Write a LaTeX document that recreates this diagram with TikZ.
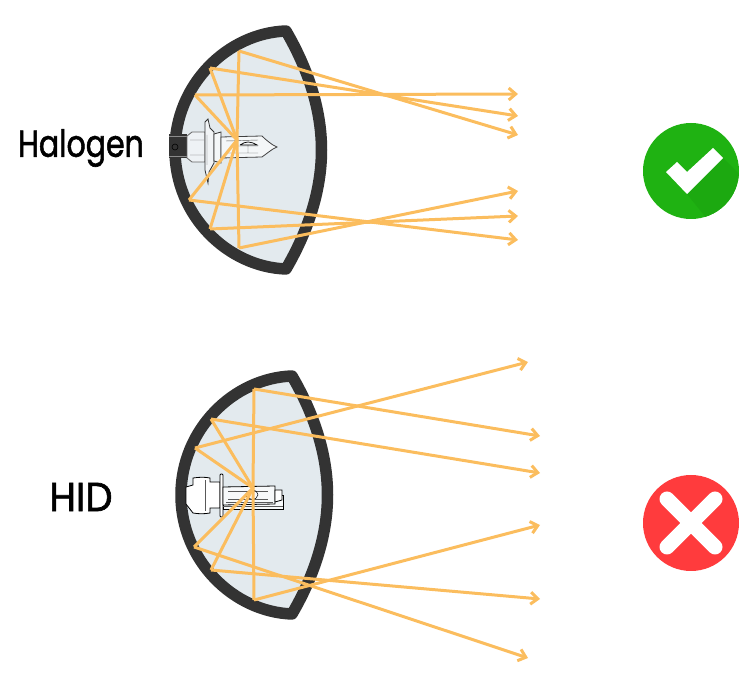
\documentclass[tikz,border=0pt]{standalone}
\usepackage{fontspec}
\setmainfont{Poppins}[RawFeature={embolden=1.6}]
\usetikzlibrary{arrows.meta}

\definecolor{shellgrey}{HTML}{333333}
\definecolor{glassblue}{HTML}{E3EAEE}
\definecolor{rayorange}{HTML}{FBBD5E}
\definecolor{okgreen}{HTML}{1FB212}
\definecolor{okshade}{HTML}{1CA910}
\definecolor{badred}{HTML}{FF3B3D}

\tikzset{
    reflector/.style={draw=shellgrey, fill=glassblue, line width=11.5pt, line join=round},
    ray/.style={draw=rayorange, line width=3pt, line join=miter},
    rayend/.style={ray, -{Straight Barb[length=7pt,width=12pt,line width=3pt]}},
    lamp/.style={draw=black, line width=0.8pt, fill=white},
    lampthin/.style={draw=black!65, line width=0.45pt},
    lamptitle/.style={font=\fontsize{30}{36}\selectfont, text=black, inner sep=0pt}
}

% reflector shell, #1 = shift
\newcommand{\reflectorshell}[1]{
    \draw[reflector, shift={#1}] (286,31) .. controls (228,33) and (175,84) .. (175,150)
        .. controls (175,216) and (228,267) .. (286,269)
        .. controls (307,233) and (321.5,192) .. (321.5,150)
        .. controls (321.5,108) and (307,67) .. (286,31) -- cycle;
}

\begin{document}
\begin{tikzpicture}[x=1pt, y=-1pt]
    \useasboundingbox (0,0) rectangle (756,692);

    % Draw the two shells
    \reflectorshell{(0,0)}
    \reflectorshell{(6,345)}

    % Halogen lamp
    \fill[black!80] (169,134) rectangle (187,158);
    \draw[black!45, line width=0.5pt] (169,136) -- (187,136) (169,156) -- (187,156);
    \draw[black, line width=0.6pt] (175,147) circle (3);
    \draw[lamp, fill=glassblue!60!white, draw=black!60] (187,136) -- (192,132) -- (205,132) -- (205,162) -- (192,162) -- (187,158) -- cycle;
    \draw[lamp, fill=glassblue!50!white, draw=black!80] (205,122) -- (208,119) -- (210,128) -- (214,132) -- (214,163) -- (209,172) -- (208,183) -- (205,170) -- cycle;
    \draw[lamp, fill=glassblue!40!white, draw=black!80] (214,134) -- (221,132) -- (221,163) -- (214,161) -- cycle;
    \draw[lamp, fill=glassblue!40!white, draw=black!75] (221,137) -- (262,136) .. controls (266,140) and (270,143) .. (273,145)
        -- (277,147) -- (273,149) .. controls (270,151) and (266,154) .. (262,157) -- (221,158) -- cycle;
    \draw[lampthin] (190,140) -- (204,140) (190,155) -- (204,155) (207,135) -- (207,165)
        (226,141) -- (258,140) (226,153) -- (258,153) (233,146) -- (258,146) (248,145) -- (248,153);
    \draw[black, line width=0.7pt] (240,145) .. controls (246,141) and (250,141) .. (257,145) -- (240,145);

    % HID lamp
    \fill[black!80] (180,490) rectangle (186,500);
    \draw[lamp] (186,487) -- (193,485) -- (193,478) .. controls (200,477) and (205,477) .. (210,478) -- (210,482) -- (220,482)
        -- (220,508) -- (210,508) -- (210,513) .. controls (205,514) and (198,514) .. (193,513) -- (186,504) -- cycle;
    \draw[lamp, rounded corners=1pt] (220,474) rectangle (223,517);
    \draw[lamp, fill=glassblue!30!white] (223,495) -- (283,495) -- (283,509) -- (223,509) -- cycle;
    \draw[lamp, fill=glassblue!30!white] (223,487) -- (275,486) -- (275,504) -- (223,505) -- cycle;
    \draw[lamp] (275,490) -- (282,490) -- (282,500) -- (275,502) -- cycle;
    \draw[lampthin] (205,480) -- (205,511) (228,491) -- (268,491) (228,499) -- (268,499)
        (226,502) -- (273,502) (223,506) -- (283,506);
    \draw[black, line width=0.5pt] (245,495) .. controls (250,488) and (256,488) .. (258,495) .. controls (256,501) and (250,501) .. (245,495);

    % Halogen rays
    \coordinate (hfocus) at (237,140);
    \coordinate (ha) at (239,51);
    \coordinate (hb) at (210,68);
    \coordinate (hc) at (195,95);
    \coordinate (hd) at (189,200);
    \coordinate (he) at (210,229);
    \coordinate (hf) at (239,248);
    \coordinate (hoa) at (518,135);
    \coordinate (hob) at (518,116);
    \coordinate (hoc) at (518,94);
    \coordinate (hod) at (518,240);
    \coordinate (hoe) at (518,216);
    \coordinate (hof) at (518,191);
    \foreach \p/\q in {ha/hoa, hb/hob, hc/hoc, hd/hod, he/hoe, hf/hof} {
        \draw[ray] (hfocus) -- (\p);
        \draw[rayend] (\p) -- (\q);
    }

    % HID rays
    \coordinate (xfocus) at (253,488);
    \coordinate (xa) at (254,389);
    \coordinate (xb) at (211,419);
    \coordinate (xc) at (195,448);
    \coordinate (xd) at (194,547);
    \coordinate (xe) at (211,570);
    \coordinate (xf) at (254,600);
    \coordinate (xoa) at (540,436);
    \coordinate (xob) at (540,473);
    \coordinate (xoc) at (528,362);
    \coordinate (xod) at (528,658);
    \coordinate (xoe) at (540,599);
    \coordinate (xof) at (540,525);
    \foreach \p/\q in {xa/xoa, xb/xob, xc/xoc, xd/xod, xe/xoe, xf/xof} {
        \draw[ray] (xfocus) -- (\p);
        \draw[rayend] (\p) -- (\q);
    }

    % Labels
    \node[lamptitle] (halogen) at (81,148) {\scalebox{1}[1.25]{Halogen}};
    \node[lamptitle] (hid) at (81,497) {\scalebox{1.28}[1.35]{HID}};

    % Check badge
    \fill[okgreen] (691,171) circle (48);
    \begin{scope}
        \clip (691,171) circle (48);
        \fill[okshade] (723,158) -- (760,195) -- (720,235) -- (687,194) -- cycle;
    \end{scope}
    \fill[white] (666,172) -- (677,162) -- (687,172) -- (713,148) -- (723,158) -- (687,194) -- cycle;

    % Cross badge
    \fill[badred] (691,523) circle (48);
    \draw[white, line width=15pt, line cap=round] (667,499) -- (715,547) (715,499) -- (667,547);
\end{tikzpicture}
\end{document}
